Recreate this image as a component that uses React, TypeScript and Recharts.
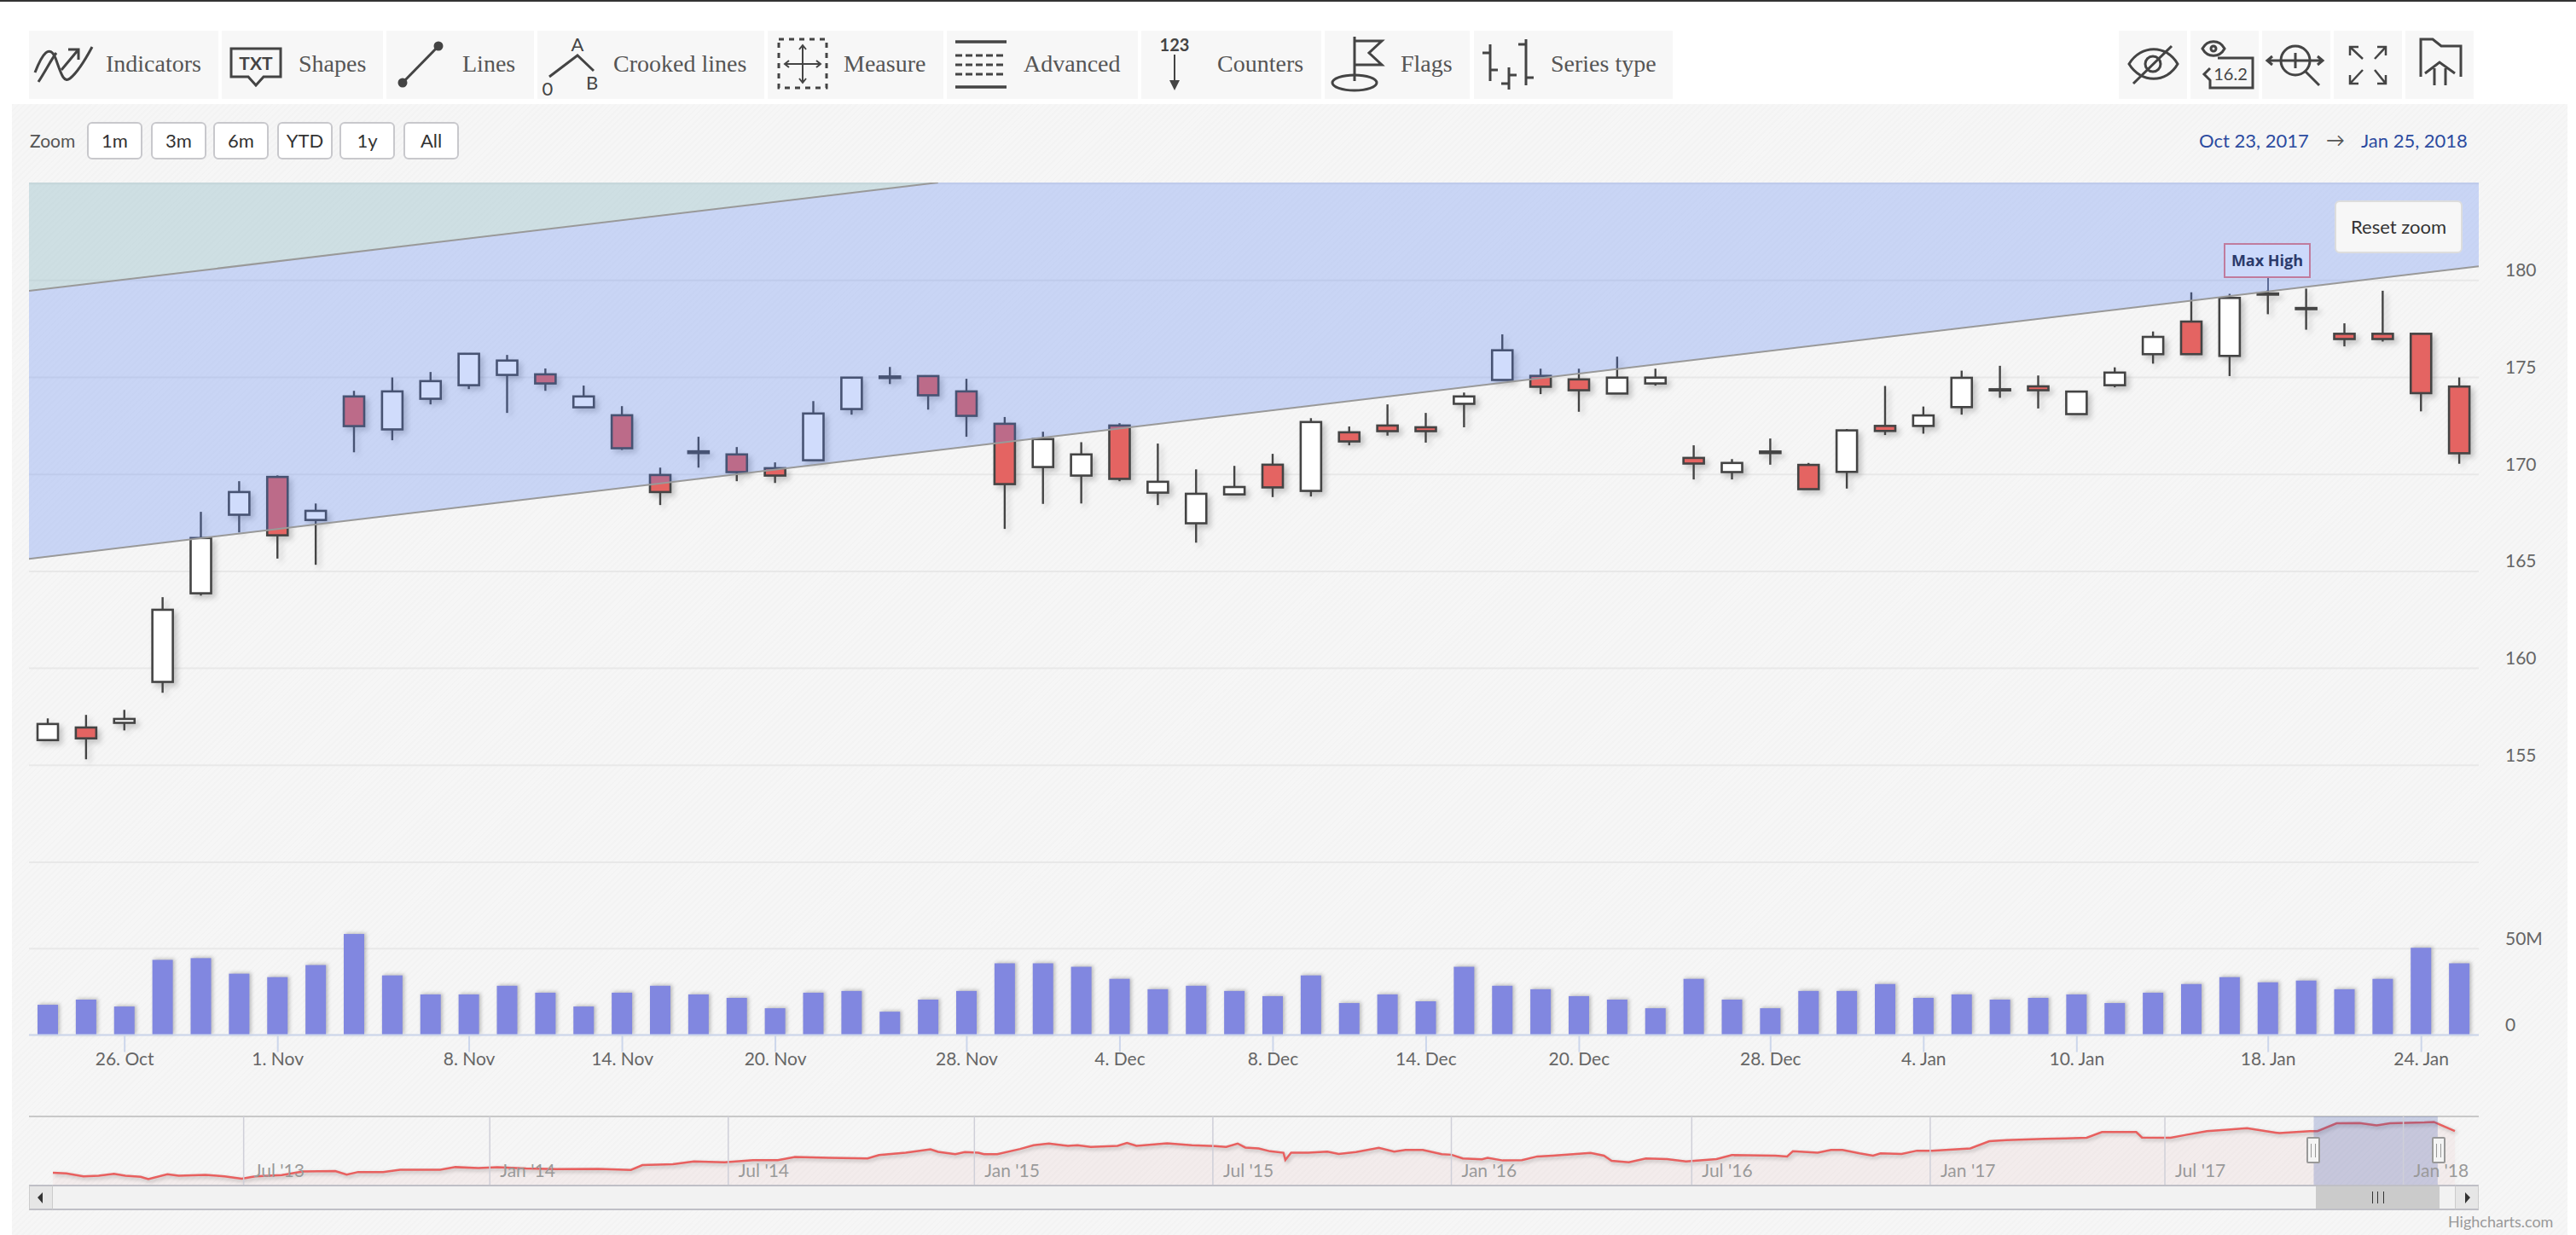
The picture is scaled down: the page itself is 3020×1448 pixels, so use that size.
import { Area, Bar, CartesianGrid, ComposedChart, Line, ReferenceArea, ReferenceLine, XAxis, YAxis } from "recharts";

const dates = [
  "2017-10-24", "2017-10-25", "2017-10-26", "2017-10-27", "2017-10-30", "2017-10-31", "2017-11-01", "2017-11-02",
  "2017-11-03", "2017-11-06", "2017-11-07", "2017-11-08", "2017-11-09", "2017-11-10", "2017-11-13", "2017-11-14",
  "2017-11-15", "2017-11-16", "2017-11-17", "2017-11-20", "2017-11-21", "2017-11-22", "2017-11-24", "2017-11-27",
  "2017-11-28", "2017-11-29", "2017-11-30", "2017-12-01", "2017-12-04", "2017-12-05", "2017-12-06", "2017-12-07",
  "2017-12-08", "2017-12-11", "2017-12-12", "2017-12-13", "2017-12-14", "2017-12-15", "2017-12-18", "2017-12-19",
  "2017-12-20", "2017-12-21", "2017-12-22", "2017-12-26", "2017-12-27", "2017-12-28", "2017-12-29", "2018-01-02",
  "2018-01-03", "2018-01-04", "2018-01-05", "2018-01-08", "2018-01-09", "2018-01-10", "2018-01-11", "2018-01-12",
  "2018-01-16", "2018-01-17", "2018-01-18", "2018-01-19", "2018-01-22", "2018-01-23", "2018-01-24", "2018-01-25",
];
const opens = [
  156.3, 156.95, 157.19, 159.3, 163.87, 167.92, 169.87, 167.65, 174.02, 172.32, 173.9, 174.6, 175.13, 175.16, 173.46, 173.05,
  169.97, 171.1, 171.03, 170.32, 170.73, 173.37, 174.97, 175.07, 174.28, 172.61, 170.38, 169.94, 172.52, 169.06, 167.48, 168.97,
  170.5, 169.15, 172.17, 172.52, 172.43, 173.64, 174.87, 175.08, 174.9, 174.17, 174.69, 170.85, 170.12, 171.1, 170.49, 170.13,
  172.5, 172.5, 173.47, 174.33, 174.54, 173.11, 174.6, 176.2, 177.88, 176.11, 179.27, 178.52, 177.25, 177.25, 177.25, 174.53,
];
const highs = [
  157.42, 157.6, 157.86, 163.67, 168.07, 169.65, 169.95, 168.5, 174.31, 175.0, 175.28, 176.22, 176.16, 175.46, 174.58, 173.52,
  170.35, 171.94, 171.41, 170.62, 173.78, 174.99, 175.54, 175.07, 174.93, 172.96, 172.2, 171.66, 172.64, 171.59, 170.26, 170.44,
  171.06, 172.9, 172.47, 173.61, 173.17, 174.22, 177.22, 175.45, 175.45, 176.07, 175.45, 171.5, 170.79, 171.85, 170.59, 172.34,
  174.56, 173.5, 175.35, 175.6, 175.1, 174.27, 175.52, 177.37, 179.39, 179.31, 179.51, 179.58, 177.79, 179.47, 177.25, 175.0,
];
const lows = [
  156.3, 155.31, 156.8, 158.74, 163.75, 167.01, 165.66, 165.34, 171.14, 171.76, 173.61, 174.4, 173.17, 174.31, 173.46, 171.26,
  168.42, 170.35, 169.65, 169.56, 170.73, 173.08, 174.66, 173.34, 171.94, 167.19, 168.48, 168.5, 169.65, 168.42, 166.48, 168.97,
  168.83, 168.86, 171.5, 172.0, 171.64, 172.43, 174.87, 174.14, 173.23, 174.17, 174.58, 169.74, 169.74, 170.5, 169.24, 169.27,
  172.03, 172.1, 173.08, 173.95, 173.4, 173.11, 174.49, 175.71, 176.2, 175.07, 178.26, 177.46, 176.6, 176.85, 173.25, 170.55,
];
const closes = [
  157.13, 156.39, 157.39, 163.02, 166.72, 169.09, 166.86, 168.12, 172.49, 174.28, 174.81, 176.22, 175.87, 174.69, 174.02, 171.35,
  169.09, 171.19, 170.12, 169.94, 173.14, 174.99, 175.05, 174.08, 173.02, 169.5, 171.82, 171.03, 169.77, 169.62, 169.0, 169.35,
  169.33, 172.7, 171.7, 172.23, 172.23, 174.02, 176.4, 174.52, 174.34, 174.99, 174.99, 170.56, 170.59, 171.18, 169.24, 172.27,
  172.24, 173.04, 174.98, 174.39, 174.34, 174.27, 175.25, 177.09, 176.2, 179.1, 179.33, 178.58, 176.98, 176.98, 174.19, 171.09,
];
// volume in millions
const volumes = [
  17.5, 20.5, 16.5, 43.5, 44.5, 35.5, 33.5, 40.5, 58.5, 34.5, 23.5, 23.5, 28.5, 24.5, 16.5, 24.5,
  28.5, 23.5, 21.5, 15.5, 24.5, 25.5, 13.5, 20.5, 25.5, 41.5, 41.5, 39.5, 32.5, 26.5, 28.5, 25.5,
  22.5, 34.5, 18.5, 23.5, 19.5, 39.5, 28.5, 26.5, 22.5, 20.5, 15.5, 32.5, 20.5, 15.5, 25.5, 25.5,
  29.5, 21.5, 23.5, 20.5, 21.5, 23.5, 18.5, 24.5, 29.5, 33.5, 30.5, 31.5, 26.5, 32.5, 50.5, 41.5,
];

const xTickDates = [
  "2017-10-26", "2017-11-01", "2017-11-08", "2017-11-14", "2017-11-20", "2017-11-28", "2017-12-04", "2017-12-08",
  "2017-12-14", "2017-12-20", "2017-12-28", "2018-01-04", "2018-01-10", "2018-01-18", "2018-01-24",
];
const xTickLabels = [
  "26. Oct", "1. Nov", "8. Nov", "14. Nov", "20. Nov", "28. Nov", "4. Dec", "8. Dec",
  "14. Dec", "20. Dec", "28. Dec", "4. Jan", "10. Jan", "18. Jan", "24. Jan",
];
const priceTicks = [150, 155, 160, 165, 170, 175, 180, 185];
const volumeTicks = [0, 50];

// channel drawn over the candles, x is the candle index
const channelX = [-0.5, 23.25, 63.5];
const channelLower = [165.65, 171.25, 180.73];
const channelUpper = [179.46, 185.05, 185.05];
const PRICE_TOP = 185.05;

// navigator: session number since the first one, close price
const navSessions = [
  0, 7, 16, 24, 32, 38, 46, 50, 60, 66, 80, 90, 99, 106, 120, 131, 148, 154, 160, 173, 182, 203, 211, 223, 233, 248, 264, 286, 303, 309,
  325, 336, 352, 367, 380, 389, 407, 427, 433, 447, 460, 464, 473, 478, 485, 488, 495, 507, 514, 522, 532, 537, 544, 558, 563, 568, 584,
  597, 609, 615, 621, 625, 632, 638, 645, 646, 649, 658, 668, 674, 683, 695, 703, 709, 718, 728, 733, 739, 749, 752, 760, 770, 778, 786,
  806, 813, 817, 826, 835, 846, 856, 872, 880, 903, 909, 912, 925, 932, 938, 947, 954, 958, 969, 977, 985, 1005, 1015, 1024, 1044, 1055,
  1066, 1074, 1092, 1095, 1110, 1118, 1129, 1140, 1150, 1165, 1167, 1183, 1187, 1197, 1209, 1218, 1225, 1243, 1248, 1252, 1259,
];
const navCloses = [
  68.5, 67.2, 61, 62.3, 66.6, 62.3, 59.8, 54.8, 65.4, 62.3, 64.1, 61, 56, 61, 63.5, 71.6, 72.2, 64.7, 70.3, 70.3, 75.3, 75.3, 80.9, 79, 80.9, 77.8, 76.5, 77.2, 74.7, 85.2,
  87.1, 93.3, 91.4, 95.8, 95.8, 102.6, 100.8, 99.5, 107, 112, 119.4, 113.8, 108.8, 113.2, 111.9, 108.8, 108.8, 120, 128.1, 131.8, 126.8, 128.1, 124.4, 126.8, 133, 126.8, 132.4,
  128.1, 126.2, 124.4, 131.8, 123.1, 121.2, 115, 111.9, 96.4, 111.9, 111.9, 114.4, 109.4, 113.2, 122.5, 114.4, 118.1, 118.1, 108.8, 107.6, 99.5, 97.6, 100.8, 95.2, 95.8, 103.9, 105.7,
  111.3, 105.7, 94.5, 91.4, 99.5, 98.3, 93.3, 98.3, 107, 105.7, 103.9, 115, 111.9, 118.1, 118.1, 110.7, 105.7, 110.7, 109.4, 116.3, 116.3, 121.2, 136.8, 139.3, 141.7, 143,
  144.2, 156.6, 156.6, 144.8, 144.2, 150.4, 158.5, 161.6, 164.7, 155.4, 154.2, 158.5, 158.5, 175.3, 175.9, 170.9, 175.3, 177.1, 178.4, 170.9, 158.5,
];
const navTickSessions = [100, 229, 354, 483, 608, 733, 859, 984, 1107, 1232];
const navTickLabels = ["Jul '13", "Jan '14", "Jul '14", "Jan '15", "Jul '15", "Jan '16", "Jul '16", "Jan '17", "Jul '17", "Jan '18"];
const navWindow = [1185, 1250];

const toolButtons = [
  { label: "Indicators", left: 34, right: 256, text: 124 },
  { label: "Shapes", left: 260, right: 449, text: 350 },
  { label: "Lines", left: 453, right: 626, text: 542 },
  { label: "Crooked lines", left: 630, right: 896, text: 719 },
  { label: "Measure", left: 900, right: 1106, text: 989 },
  { label: "Advanced", left: 1110, right: 1334, text: 1200 },
  { label: "Counters", left: 1338, right: 1549, text: 1427 },
  { label: "Flags", left: 1553, right: 1723, text: 1642 },
  { label: "Series type", left: 1728, right: 1961, text: 1818 },
];
const iconButtons = [[2484, 2564], [2568, 2648], [2652, 2732], [2736, 2816], [2820, 2900]];
const zoomButtons = [
  { label: "1m", left: 102 }, { label: "3m", left: 177 }, { label: "6m", left: 250 },
  { label: "YTD", left: 325 }, { label: "1y", left: 398 }, { label: "All", left: 473 },
];

const candleRows = dates.map((date, i) => ({
  date,
  open: opens[i],
  high: highs[i],
  low: lows[i],
  close: closes[i],
  range: [lows[i], highs[i]],
  volume: volumes[i],
}));
const channelRows = channelX.map((x, i) => ({
  x,
  lower: channelLower[i],
  upper: channelUpper[i],
  band: [channelLower[i], channelUpper[i]],
  cap: i < 2 ? [channelUpper[i], PRICE_TOP] : null,
  upperLine: i < 2 ? channelUpper[i] : null,
}));
const navRows = navSessions.map((session, i) => ({ session, close: navCloses[i] }));

const FONT = "Lato, 'Open Sans', sans-serif";
const SERIF = "'Liberation Serif', serif";
const INK = "#444";

const Candle = (props: any) => {
  const { x, y, width, height, payload } = props;
  const span = payload.high - payload.low;
  const toY = (v: number) => y + ((payload.high - v) / span) * height;
  const top = toY(Math.max(payload.open, payload.close));
  const bottom = toY(Math.min(payload.open, payload.close));
  const mid = x + width / 2;
  const up = payload.close >= payload.open;
  return (
    <g style={{ filter: "drop-shadow(4px 4px 3px rgba(0,0,0,0.2))" }}>
      <line x1={mid} x2={mid} y1={y} y2={y + height} stroke={INK} strokeWidth={2.4} />
      <rect x={x} y={top} width={width} height={Math.max(bottom - top, 1)} fill={up ? "#ffffff" : "#e46462"} stroke={INK} strokeWidth={2.6} />
    </g>
  );
};

const VolumeBar = (props: any) => {
  const { x, y, width, height } = props;
  return <rect x={x} y={y} width={width} height={height} fill="#8187e0" style={{ filter: "drop-shadow(2px -1px 2px rgba(0,0,0,0.25))" }} />;
};

const NavTick = (props: any) => {
  const { x, payload } = props;
  const label = navTickLabels[navTickSessions.indexOf(payload.value)];
  return (
    <text x={x + 12} y={71} fontFamily={FONT} fontSize={21} fill="#9a9a9a" textAnchor="start">
      {label}
    </text>
  );
};

const Box = ({ left, top, width, height, style, children }: any) => (
  <div style={{ position: "absolute", left, top, width, height, boxSizing: "border-box", ...style }}>{children}</div>
);

const Icons = () => (
  <svg width={3020} height={122} style={{ position: "absolute", left: 0, top: 0 }} fill="none" stroke={INK} strokeWidth={3}>
    <path d="M41 85 C50 62 58 52 65 68 C71 84 74 98 82 92 C92 84 100 70 108 55" />
    <path d="M45 96 C54 82 60 70 66 62 M72 82 L92 58 M80 58 L92 58 L92 70" />
    <path d="M271 57 H329 V90 H309 L300 100 L291 90 H271 Z" />
    <text x={300} y={82} fontFamily={FONT} fontSize={21} fontWeight={700} fill={INK} stroke="none" textAnchor="middle">TXT</text>
    <path d="M472 97 L514 54" />
    <circle cx={514} cy={54} r={4} fill={INK} />
    <circle cx={472} cy={97} r={4} fill={INK} />
    <path d="M644 90 L677 65 L696 83" />
    <g fontFamily={FONT} fontSize={22} fill={INK} stroke="none" textAnchor="middle">
      <text x={677} y={60}>A</text>
      <text x={642} y={112}>0</text>
      <text x={694} y={105}>B</text>
    </g>
    <rect x={913} y={46} width={56} height={57} strokeDasharray="6 6" />
    <path d="M920 75 H962 M941 53 V97 M925 71 L920 75 L925 79 M957 71 L962 75 L957 79 M937 58 L941 53 L945 58 M937 92 L941 97 L945 92" strokeWidth={2} />
    <path d="M1120 49 H1180 M1120 102 H1180" strokeWidth={3.5} />
    <path d="M1120 65 H1180 M1120 76 H1180 M1120 87 H1180" strokeDasharray="8 4" strokeWidth={3} />
    <text x={1377} y={60} fontFamily={FONT} fontSize={20} fontWeight={700} fill={INK} stroke="none" textAnchor="middle">123</text>
    <path d="M1377 64 V100" strokeWidth={2} />
    <path d="M1371 94 H1383 L1377 106 Z" fill={INK} stroke="none" />
    <path d="M1588 43 V95 M1588 48 H1620 L1605 62 L1620 76 H1588" />
    <ellipse cx={1588} cy={97} rx={26} ry={9} />
    <path d="M1747 52 V95 M1738 62 H1747 M1747 82 H1756 M1769 79 V105 M1760 98 H1769 M1769 88 H1778 M1789 46 V100 M1780 52 H1789 M1789 91 H1798" />
    <path d="M2496 75 C2510 52 2540 52 2553 75 C2540 98 2510 98 2496 75 Z M2546 54 L2501 98" />
    <circle cx={2524} cy={75} r={9} />
    <path d="M2582 57 C2588 46 2602 46 2608 57 C2602 68 2588 68 2582 57 Z M2600 68 H2641 V103 H2591 V94 L2584 87 L2591 80" />
    <circle cx={2595} cy={57} r={3} />
    <text x={2615} y={94} fontFamily={FONT} fontSize={20} fill={INK} stroke="none" textAnchor="middle">16.2</text>
    <circle cx={2691} cy={71} r={17} />
    <path d="M2703 84 L2719 100 M2658 71 H2723 M2691 62 V80 M2664 66 L2658 71 L2664 76 M2717 66 L2723 71 L2717 76" />
    <path d="M2755 55 L2770 69 M2797 55 L2784 69 M2755 98 L2770 82 M2797 98 L2784 82 M2755 65 V55 H2765 M2787 55 H2797 V65 M2755 88 V98 H2765 M2787 98 H2797 V88" strokeWidth={2.5} />
    <path d="M2838 90 V46 H2852 L2862 54 H2885 V90" />
    <path d="M2843 86 L2860 73 L2878 86 M2854 80 V100 M2867 80 V100" />
  </svg>
);

const App = () => {
  return (
    <div style={{ position: "absolute", left: 0, top: 0, width: 3020, height: 1448, overflow: "hidden", background: "#fff", fontFamily: FONT }}>
      <Box left={0} top={0} width={3020} height={2} style={{ background: "#333" }} />

      {toolButtons.map((b) => (
        <Box key={b.label} left={b.left} top={36} width={b.right - b.left} height={80} style={{ background: "#f7f7f7" }}>
          <span style={{ position: "absolute", left: b.text - b.left, top: 23, fontFamily: SERIF, fontSize: 28, color: "#555", whiteSpace: "nowrap" }}>{b.label}</span>
        </Box>
      ))}
      {iconButtons.map(([l, r]) => (
        <Box key={l} left={l} top={36} width={r - l} height={80} style={{ background: "#f7f7f7" }} />
      ))}
      <Icons />

      <Box
        left={14}
        top={122}
        width={2996}
        height={1326}
        style={{ background: "repeating-linear-gradient(135deg, #f3f3f3 0 2px, #f6f6f6 2px 5px)" }}
      />

      <Box left={35} top={152} width={60} height={26} style={{ fontSize: 21, lineHeight: "26px", color: "#555" }}>Zoom</Box>
      {zoomButtons.map((b) => (
        <Box
          key={b.label}
          left={b.left}
          top={143}
          width={65}
          height={44}
          style={{ background: "#fff", border: "2px solid #c8c8cc", borderRadius: 6, textAlign: "center", fontSize: 22, lineHeight: "40px", color: "#333" }}
        >
          {b.label}
        </Box>
      ))}
      <Box left={2578} top={151} width={140} height={28} style={{ fontSize: 22, lineHeight: "28px", color: "#2c4ba0", whiteSpace: "nowrap" }}>Oct 23, 2017</Box>
      <Box left={2727} top={151} width={24} height={28} style={{ fontSize: 22, lineHeight: "26px", color: "#555" }}>→</Box>
      <Box left={2768} top={151} width={140} height={28} style={{ fontSize: 22, lineHeight: "28px", color: "#2c4ba0", whiteSpace: "nowrap" }}>Jan 25, 2018</Box>

      <div style={{ position: "absolute", left: 34, top: 214 }}>
        <ComposedChart width={2986} height={797} data={candleRows} margin={{ top: 0, right: 0, bottom: 0, left: 0 }}>
          <CartesianGrid vertical={false} stroke="#e8e8e8" strokeWidth={2} />
          <XAxis dataKey="date" hide />
          <YAxis
            orientation="right"
            width={114}
            domain={[150, PRICE_TOP]}
            ticks={priceTicks}
            allowDataOverflow
            axisLine={false}
            tickLine={false}
            tickSize={0}
            tickMargin={31}
            tick={{ fontFamily: FONT, fontSize: 21, fill: "#666", dy: -12, textAnchor: "start" }}
            tickFormatter={(v: number) => (v === 185 ? "" : String(v))}
          />
          <Bar dataKey="range" barSize={24} shape={<Candle />} isAnimationActive={false} />
        </ComposedChart>
      </div>

      <div style={{ position: "absolute", left: 34, top: 214, pointerEvents: "none" }}>
        <ComposedChart width={2872} height={797} data={channelRows} margin={{ top: 0, right: 0, bottom: 0, left: 0 }}>
          <XAxis dataKey="x" type="number" domain={[-0.5, 63.5]} hide />
          <YAxis domain={[150, PRICE_TOP]} hide allowDataOverflow />
          <Area dataKey="band" type="linear" fill="#507ef4" fillOpacity={0.27} stroke="none" dot={false} activeDot={false} isAnimationActive={false} />
          <Area dataKey="cap" type="linear" fill="#96bec8" fillOpacity={0.42} stroke="none" dot={false} activeDot={false} isAnimationActive={false} />
          <Line dataKey="lower" type="linear" stroke="#999" strokeWidth={2} dot={false} activeDot={false} isAnimationActive={false} />
          <Line dataKey="upperLine" type="linear" stroke="#999" strokeWidth={2} dot={false} activeDot={false} isAnimationActive={false} />
        </ComposedChart>
      </div>

      <div style={{ position: "absolute", left: 34, top: 1011 }}>
        <ComposedChart width={2986} height={260} data={candleRows} margin={{ top: 0, right: 0, bottom: 0, left: 0 }}>
          <CartesianGrid vertical={false} stroke="#e8e8e8" strokeWidth={2} />
          <XAxis
            dataKey="date"
            height={57.5}
            ticks={xTickDates}
            interval={0}
            stroke="#ccd6eb"
            strokeWidth={2}
            tickSize={20}
            tickMargin={1}
            tick={{ fontFamily: FONT, fontSize: 21, fill: "#666" }}
            tickFormatter={(d: string) => xTickLabels[xTickDates.indexOf(d)]}
          />
          <YAxis
            orientation="right"
            width={114}
            domain={[0, 100]}
            ticks={volumeTicks}
            axisLine={false}
            tickLine={false}
            tickSize={0}
            tickMargin={31}
            tick={{ fontFamily: FONT, fontSize: 21, fill: "#666", dy: -12, textAnchor: "start" }}
            tickFormatter={(v: number) => (v === 0 ? "0" : `${v}M`)}
          />
          <Bar dataKey="volume" barSize={24} shape={<VolumeBar />} isAnimationActive={false} />
        </ComposedChart>
      </div>

      <Box left={34} top={1308} width={2872} height={2} style={{ background: "#c8c8c8" }} />
      <div style={{ position: "absolute", left: 34, top: 1309 }}>
        <ComposedChart width={2872} height={111} data={navRows} margin={{ top: 0, right: 28, bottom: 0, left: 28 }}>
          <XAxis
            dataKey="session"
            type="number"
            domain={[0, 1259]}
            ticks={navTickSessions}
            interval={0}
            height={30}
            axisLine={false}
            tickLine={false}
            tick={<NavTick />}
          />
          <YAxis domain={[41.1, 190.2]} hide />
          {navTickSessions.map((s) => (
            <ReferenceLine key={s} x={s} stroke="#cfcfd8" strokeWidth={1.5} />
          ))}
          <Area
            dataKey="close"
            type="linear"
            stroke="#e8605f"
            strokeWidth={2.5}
            fill="#e46462"
            fillOpacity={0.05}
            dot={false}
            activeDot={false}
            isAnimationActive={false}
            style={{ filter: "drop-shadow(2px 2px 2px rgba(0,0,0,0.25))" }}
          />
          <ReferenceArea x1={navWindow[0]} x2={navWindow[1]} fill="#3c55aa" fillOpacity={0.24} stroke="none" ifOverflow="visible" />
        </ComposedChart>
      </div>

      {[2712, 2859].map((x) => (
        <Box key={x} left={x - 8} top={1333} width={16} height={31} style={{ background: "#f4f4f4", border: "2px solid #999", borderRadius: 2 }}>
          <Box left={3} top={6} width={6} height={16} style={{ borderLeft: "1.5px solid #999", borderRight: "1.5px solid #999" }} />
        </Box>
      ))}

      <Box left={34} top={1389} width={2872} height={30} style={{ background: "#f2f2f2", borderTop: "2px solid #bfbfc6", borderBottom: "2px solid #bfbfc6" }} />
      <Box left={34} top={1389} width={28} height={30} style={{ background: "#e6e6e6", borderTop: "2px solid #bfbfc6", borderBottom: "2px solid #bfbfc6", borderLeft: "1px solid #ccc", borderRight: "1px solid #ccc" }} />
      <Box left={2878} top={1389} width={28} height={30} style={{ background: "#e6e6e6", borderTop: "2px solid #bfbfc6", borderBottom: "2px solid #bfbfc6", borderLeft: "1px solid #ccc", borderRight: "1px solid #ccc" }} />
      <Box left={2715} top={1391} width={145} height={26} style={{ background: "#cbcbcb" }}>
        <Box left={66} top={6} width={14} height={14} style={{ borderLeft: "1.5px solid #333", borderRight: "1.5px solid #333" }}>
          <Box left={4.5} top={0} width={2} height={14} style={{ background: "#333", width: 1.5 }} />
        </Box>
      </Box>
      <svg width={3020} height={1448} style={{ position: "absolute", left: 0, top: 0, pointerEvents: "none" }}>
        <path d="M50 1398 L44 1404 L50 1411 Z M2890 1398 L2896 1404 L2890 1411 Z" fill="#333" />
      </svg>

      <Box left={2737} top={235} width={150} height={62} style={{ background: "#f7f7f7", border: "2px solid #ddd", borderRadius: 6, textAlign: "center", fontSize: 22, lineHeight: "58px", color: "#333" }}>Reset zoom</Box>
      <Box left={2658} top={325} width={2} height={16} style={{ background: "#5b6a95" }} />
      <Box left={2607} top={285} width={102} height={41} style={{ background: "#ccd9fb", border: "2px solid #c07c9e", textAlign: "center", fontFamily: "'Open Sans', sans-serif", fontSize: 18, fontWeight: 700, lineHeight: "36px", color: "#2b3a6b", whiteSpace: "nowrap" }}>Max High</Box>
      <Box left={2870} top={1420} width={130} height={24} style={{ fontSize: 18, lineHeight: "24px", color: "#999", whiteSpace: "nowrap" }}>Highcharts.com</Box>
    </div>
  );
};

export default App;
